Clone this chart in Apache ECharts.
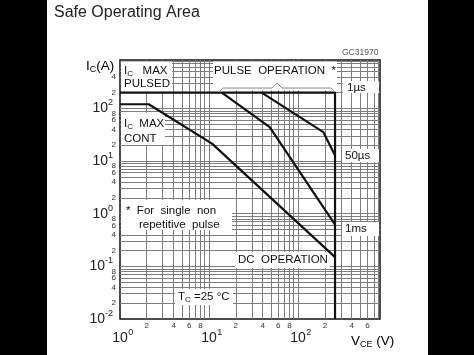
<!DOCTYPE html>
<html>
<head>
<meta charset="utf-8">
<title>Safe Operating Area</title>
<script src="https://cdn.jsdelivr.net/npm/echarts@6.0.0/dist/echarts.min.js"></script>
<style>
  html, body { margin: 0; padding: 0; background: #000; }
  #chart { width: 474px; height: 355px; }
</style>
</head>
<body>
<div id="chart"></div>
<script>
// 坐标轴范围 (log10 值)
const xLogMin = 0
const xLogMax = 2.92
const yLogMin = -2
const yLogMax = 2.92

// 刻度标签
const xMajorTicks = [1, 10, 100]
const xMinorTicks = [2, 4, 6, 8, 20, 40, 60, 80, 200, 400, 600]
const yMajorTicks = [0.01, 0.1, 1, 10, 100]
const yMinorTicks = [0.02, 0.04, 0.06, 0.08, 0.2, 0.4, 0.6, 0.8, 2, 4, 6, 8, 20, 40, 60, 80, 200, 400]

// 网格线: 每个十进位的 1..9
const gridMantissa = [1, 2, 3, 4, 5, 6, 7, 8, 9]
const gridDecades = [0.01, 0.1, 1, 10, 100]

// 曲线数据 V_CE (V) / I_C (A)
const pulseV = [1, 260, 260]
const pulseI = [200, 200, 0.01]
const dcV = [1, 2.1, 10.8, 260]
const dcI = [120, 120, 21.5, 0.15]
const ms1V = [13.9, 48, 260]
const ms1I = [200, 44, 0.62]
const us50V = [39, 192, 260]
const us50I = [200, 35.5, 12.7]
// PULSE OPERATION 下面的大括号
const braceV = [13.3, 14.3, 51, 58, 66, 235, 253]
const braceI = [214, 244, 244, 304, 244, 244, 214]

const lg = Math.log10
const toPairs = (vs, is) => vs.map((v, i) => [lg(v), lg(is[i])])
const FONT = 'Liberation Sans'

// 网格线位置
const gridX = []
const gridY = []
gridDecades.forEach((d) => {
  gridMantissa.forEach((m) => {
    const v = lg(m * d)
    if (v > xLogMin + 0.001 && v < xLogMax - 0.001) gridX.push({ xAxis: v })
    if (v > yLogMin + 0.001 && v < yLogMax - 0.001) gridY.push({ yAxis: v })
  })
})

const mantissa = (v) => Math.round(Math.pow(10, v - Math.floor(v + 1e-6)))
const expo = (v) => Math.round(v)

// 上下标样式
const rich = {
  n: { fontFamily: FONT, fontSize: 11.5, color: '#111', lineHeight: 14 },
  s: { fontFamily: FONT, fontSize: 8, color: '#111', lineHeight: 9, verticalAlign: 'bottom' },
  big: { fontFamily: FONT, fontSize: 13.5, color: '#111', lineHeight: 16 },
  bs: { fontFamily: FONT, fontSize: 9, color: '#111', lineHeight: 9, verticalAlign: 'bottom' }
}

// 白底注释框 (盖住网格线, 在曲线下面)
const box = (x, y, w, h) => ({
  type: 'rect', z: 20, silent: true,
  shape: { x, y, width: w, height: h },
  style: { fill: '#fff' }
})
const txt = (x, y, text, align) => ({
  type: 'text', z: 31, silent: true, x, y,
  style: {
    text, rich, fill: '#111', font: '11.5px "Liberation Sans"',
    textAlign: align || 'left', textVerticalAlign: 'middle'
  }
})

const chart = echarts.init(document.getElementById('chart'))

const curve = (name, data) => ({
  name, type: 'line', data, z: 30,
  symbol: 'none', silent: true,
  lineStyle: { color: '#111', width: 2.2 }
})

const option = {
  animation: false,
  backgroundColor: '#fff',
  grid: {
    left: 120, right: 94, top: 60, bottom: 36,
    show: true, borderColor: '#111', borderWidth: 1.5, backgroundColor: '#fff'
  },
  xAxis: [
    {
      type: 'value', min: xLogMin, max: xLogMax,
      axisLine: { show: false }, axisTick: { show: false }, splitLine: { show: false },
      axisLabel: {
        customValues: xMinorTicks.map(lg),
        formatter: (v) => String(mantissa(v)),
        fontFamily: FONT, fontSize: 8, color: '#333', margin: 3
      }
    },
    {
      type: 'value', min: xLogMin, max: xLogMax, position: 'bottom',
      axisLine: { show: false }, axisTick: { show: false }, splitLine: { show: false },
      axisLabel: {
        customValues: xMajorTicks.map(lg),
        formatter: (v) => '{e|}{b|10}{s|' + expo(v) + '}',
        margin: 9,
        rich: {
          e: { width: 6 },
          b: { fontFamily: FONT, fontSize: 14, color: '#222', lineHeight: 20 },
          s: { fontFamily: FONT, fontSize: 9, color: '#222', lineHeight: 9, verticalAlign: 'top', width: 6 }
        }
      }
    }
  ],
  yAxis: [
    {
      type: 'value', min: yLogMin, max: yLogMax,
      axisLine: { show: false }, axisTick: { show: false }, splitLine: { show: false },
      axisLabel: {
        customValues: yMinorTicks.map(lg),
        formatter: (v) => String(mantissa(v)),
        fontFamily: FONT, fontSize: 8, color: '#333', margin: 4
      }
    },
    {
      type: 'value', min: yLogMin, max: yLogMax, position: 'left',
      axisLine: { show: false }, axisTick: { show: false }, splitLine: { show: false },
      axisLabel: {
        customValues: yMajorTicks.map(lg),
        formatter: (v) => '{b|10}{s|' + expo(v) + '}',
        margin: 7,
        rich: {
          b: { fontFamily: FONT, fontSize: 14, color: '#222', lineHeight: 20 },
          s: { fontFamily: FONT, fontSize: 9, color: '#222', lineHeight: 9, verticalAlign: 'top' }
        }
      }
    }
  ],
  series: [
    {
      // 网格线
      type: 'line', data: [], z: 1, silent: true,
      markLine: {
        silent: true, symbol: 'none', animation: false,
        label: { show: false },
        lineStyle: { color: '#7d7d7d', width: 1, type: 'solid' },
        data: gridX.concat(gridY)
      }
    },
    curve('pulsed', toPairs(pulseV, pulseI)),
    curve('dc', toPairs(dcV, dcI)),
    curve('1ms', toPairs(ms1V, ms1I)),
    curve('50us', toPairs(us50V, us50I)),
    {
      name: 'brace', type: 'line', data: toPairs(braceV, braceI), z: 30,
      symbol: 'none', silent: true,
      lineStyle: { color: '#888', width: 1 }
    }
  ],
  graphic: [
    // 标题
    {
      type: 'text', x: 54, y: 13, z: 31,
      style: { text: 'Safe Operating Area', font: '16px "Liberation Sans"', fill: '#222', textVerticalAlign: 'middle' }
    },
    {
      type: 'text', x: 342, y: 53, z: 31,
      style: { text: 'GC31970', font: '8.5px "Liberation Sans"', fill: '#555', textVerticalAlign: 'middle' }
    },
    // 坐标轴标题
    {
      type: 'text', x: 86, y: 66, z: 31,
      style: {
        text: '{big|I}{bs|C}{big|(A)}', rich, textVerticalAlign: 'middle'
      }
    },
    {
      type: 'text', x: 351, y: 341, z: 31,
      style: {
        text: '{big|V}{bs|CE}{big| (V)}', rich, textVerticalAlign: 'middle'
      }
    },
    // 注释框
    box(121, 61.5, 51, 30),
    txt(124, 71, '{n|I}{s|C}{n|   MAX}'),
    txt(124, 84, 'PULSED'),
    box(213, 61.5, 124, 29),
    txt(275, 71, 'PULSE  OPERATION  *', 'center'),
    box(343, 81, 36, 12),
    txt(347, 87.5, '1µs'),
    box(121, 113, 44, 32),
    txt(124, 124, '{n|I}{s|C}{n|  MAX}'),
    txt(124, 138.5, 'CONT'),
    box(342, 149, 37, 13),
    txt(345, 155.5, '50µs'),
    box(121, 200, 111, 30),
    txt(126, 211, '*  For  single  non'),
    txt(139, 225, 'repetitive  pulse'),
    box(342, 222, 37, 14),
    txt(345, 229, '1ms'),
    box(235, 252, 95, 16),
    txt(238, 260, 'DC  OPERATION'),
    box(175, 289, 58, 16),
    txt(178, 297, '{n|T}{s|C}{n| =25 °C}'),
    // 两侧黑边
    { type: 'rect', z: 40, silent: true, shape: { x: 0, y: 0, width: 47, height: 355 }, style: { fill: '#000' } },
    { type: 'rect', z: 40, silent: true, shape: { x: 428, y: 0, width: 46, height: 355 }, style: { fill: '#000' } }
  ]
}

chart.setOption(option)
</script>
</body>
</html>
